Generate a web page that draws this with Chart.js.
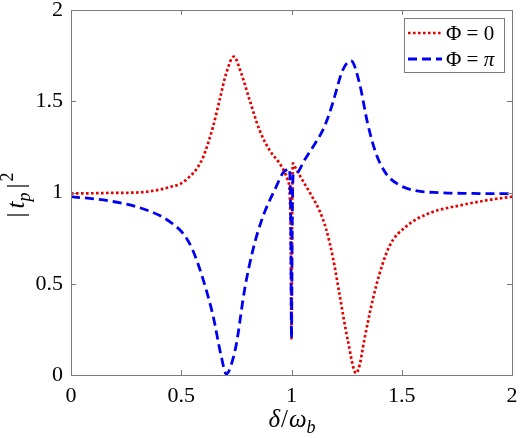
<!DOCTYPE html>
<html>
<head>
<meta charset="utf-8">
<script src="https://cdn.jsdelivr.net/npm/chart.js@4.4.1/dist/chart.umd.min.js"></script>
<style>
html, body { margin: 0; padding: 0; background: #fff; }
</style>
</head>
<body>
<canvas id="chart" width="520" height="438"></canvas>
<script>
// tick values
const xTicks = [0, 0.5, 1, 1.5, 2];
const yTicks = [0, 0.5, 1, 1.5, 2];

// Phi = 0 (red dotted)
const redX = [0, 0.1, 0.2, 0.3, 0.4, 0.448, 0.5, 0.538, 0.57, 0.6, 0.644, 0.674, 0.704, 0.738, 0.772, 0.81, 0.855, 0.9, 0.946, 0.968, 0.983, 0.991, 0.997, 1.0, 1.003, 1.006, 1.02, 1.051, 1.09, 1.127, 1.157, 1.19, 1.217, 1.255, 1.293, 1.31, 1.33, 1.383, 1.443, 1.519, 1.624, 1.775, 1.9, 2.0];
const redY = [0.995, 0.996, 0.998, 1.0, 1.015, 1.03, 1.05, 1.087, 1.13, 1.196, 1.36, 1.507, 1.653, 1.744, 1.653, 1.507, 1.342, 1.233, 1.16, 1.114, 1.068, 1.01, 0.7, 0.2, 0.9, 1.16, 1.13, 1.065, 0.985, 0.9, 0.8, 0.63, 0.447, 0.192, 0.01, 0.06, 0.192, 0.484, 0.703, 0.813, 0.886, 0.932, 0.96, 0.977];

// Phi = pi (blue dashed)
const blueX = [0, 0.146, 0.297, 0.4, 0.448, 0.508, 0.55, 0.6, 0.645, 0.68, 0.705, 0.725, 0.75, 0.787, 0.825, 0.87, 0.93, 0.96, 0.976, 0.99, 0.997, 1.0, 1.003, 1.008, 1.021, 1.06, 1.1, 1.142, 1.165, 1.187, 1.232, 1.27, 1.308, 1.345, 1.383, 1.428, 1.489, 1.564, 1.67, 1.8, 2.0];
const blueY = [0.977, 0.959, 0.922, 0.875, 0.84, 0.776, 0.69, 0.52, 0.32, 0.11, 0.005, 0.05, 0.17, 0.466, 0.685, 0.867, 1.03, 1.105, 1.123, 1.13, 0.8, 0.2, 0.8, 1.1, 1.105, 1.18, 1.255, 1.342, 1.41, 1.49, 1.67, 1.722, 1.6, 1.38, 1.215, 1.105, 1.041, 1.01, 0.999, 0.995, 0.993];

const serif = "'Liberation Serif', 'Times New Roman', serif";
const frameColor = '#7a7a7a';

function pts(xs, ys) {
    return xs.map((x, i) => ({ x: x, y: ys[i] }));
}

// draws a row of text pieces: [text, italic, baseline shift (em), scale, gap after (px)]
function drawRich(ctx, parts, cx, cy, size) {
    let w = 0;
    parts.forEach(p => {
        ctx.font = (p[1] ? 'italic ' : '') + Math.round(size * p[3]) + 'px ' + serif;
        w += ctx.measureText(p[0]).width + (p[4] || 0);
    });
    let x = cx - w / 2;
    parts.forEach(p => {
        ctx.font = (p[1] ? 'italic ' : '') + Math.round(size * p[3]) + 'px ' + serif;
        ctx.fillText(p[0], x, cy + p[2] * size);
        x += ctx.measureText(p[0]).width + (p[4] || 0);
    });
}

const decor = {
    id: 'decor',
    afterDraw(chart) {
        const ctx = chart.ctx;
        const a = chart.chartArea;
        const xs = chart.scales.x, ys = chart.scales.y;
        ctx.save();
        // box
        ctx.strokeStyle = frameColor;
        ctx.lineWidth = 1;
        ctx.strokeRect(a.left + 0.5, a.top + 0.5, a.right - a.left, a.bottom - a.top);
        // inward ticks on all four sides
        ctx.beginPath();
        xTicks.forEach(v => {
            const px = Math.round(xs.getPixelForValue(v)) + 0.5;
            ctx.moveTo(px, a.bottom); ctx.lineTo(px, a.bottom - 5);
            ctx.moveTo(px, a.top); ctx.lineTo(px, a.top + 5);
        });
        yTicks.forEach(v => {
            const py = Math.round(ys.getPixelForValue(v)) + 0.5;
            ctx.moveTo(a.left, py); ctx.lineTo(a.left + 5, py);
            ctx.moveTo(a.right, py); ctx.lineTo(a.right - 5, py);
        });
        ctx.stroke();

        // legend
        const lx = 404, ly = 18, lw = 100, lh = 54;
        ctx.fillStyle = '#fff';
        ctx.fillRect(lx, ly, lw, lh);
        ctx.strokeStyle = frameColor;
        ctx.strokeRect(lx + 0.5, ly + 0.5, lw, lh);
        chart.data.datasets.forEach((ds, i) => {
            const y = ly + 15 + i * 26;
            ctx.strokeStyle = ds.borderColor;
            ctx.lineWidth = ds.borderWidth;
            ctx.setLineDash(ds.borderDash);
            ctx.beginPath();
            ctx.moveTo(lx + 4, y); ctx.lineTo(lx + 38, y);
            ctx.stroke();
            ctx.setLineDash([]);
            ctx.fillStyle = '#000';
            ctx.textBaseline = 'alphabetic';
            ctx.textAlign = 'left';
            ctx.font = '21px ' + serif;
            ctx.fillText('\u03A6 = ', lx + 42, y + 7);
            const w = ctx.measureText('\u03A6 = ').width;
            ctx.font = (i === 1 ? 'italic ' : '') + '21px ' + serif;
            ctx.fillText(i === 0 ? '0' : '\u03C0', lx + 42 + w, y + 7);
        });

        // axis titles
        ctx.fillStyle = '#000';
        ctx.textAlign = 'left';
        ctx.textBaseline = 'alphabetic';
        drawRich(ctx, [['\u03B4', true, 0, 1, 1], ['/', false, 0, 1, 1], ['\u03C9', true, 0, 1, 0], ['b', true, 0.22, 0.72]], 292, 427, 25);
        ctx.translate(24, 195);
        ctx.rotate(-Math.PI / 2);
        drawRich(ctx, [['|', false, 0, 1, 4], ['t', true, 0, 1, 0], ['p', true, 0.22, 0.72, 4], ['|', false, 0, 1, 2], ['2', false, -0.45, 0.72]], 0, 0, 25);
        ctx.restore();
    }
};

function draw() {
    new Chart(document.getElementById('chart'), {
        type: 'line',
        data: {
            datasets: [{
                label: '\u03A6 = 0',
                data: pts(redX, redY),
                borderColor: '#e60000',
                borderWidth: 2.7,
                borderDash: [2.6, 2.4],
                pointRadius: 0,
                cubicInterpolationMode: 'monotone',
                order: 1
            }, {
                label: '\u03A6 = \u03C0',
                data: pts(blueX, blueY),
                borderColor: '#0000f0',
                borderWidth: 2.8,
                borderDash: [9, 5],
                pointRadius: 0,
                cubicInterpolationMode: 'monotone',
                order: 0
            }]
        },
        options: {
            responsive: false,
            animation: false,
            layout: { padding: { top: 10, right: 8, left: 0, bottom: 0 } },
            plugins: { legend: { display: false }, tooltip: { enabled: false } },
            scales: {
                x: {
                    type: 'linear', min: 0, max: 2,
                    afterBuildTicks: s => { s.ticks = xTicks.map(v => ({ value: v })); },
                    afterFit: s => { s.height = 63; s.paddingLeft = 0; s.paddingRight = 0; },
                    grid: { display: false, drawTicks: false },
                    border: { display: false },
                    ticks: { color: '#000', padding: 8, maxRotation: 0, font: { family: serif, size: 22 }, callback: v => String(v) }
                },
                y: {
                    type: 'linear', min: 0, max: 2,
                    afterBuildTicks: s => { s.ticks = yTicks.map(v => ({ value: v })); },
                    afterFit: s => { s.width = 71; s.paddingTop = 0; s.paddingBottom = 0; },
                    grid: { display: false, drawTicks: false },
                    border: { display: false },
                    ticks: { color: '#000', padding: 8, font: { family: serif, size: 22 }, callback: v => String(v) }
                }
            }
        },
        plugins: [decor]
    });
}

Promise.all([
    document.fonts.load('22px "Liberation Serif"'),
    document.fonts.load('italic 22px "Liberation Serif"')
]).then(draw, draw);
</script>
</body>
</html>
